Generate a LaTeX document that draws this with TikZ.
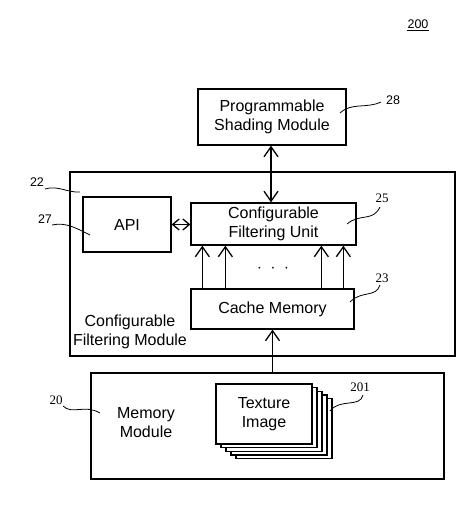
\documentclass[tikz,border=0pt]{standalone}
\usepackage{fontspec}
\setmainfont{Liberation Sans}
\newfontfamily\numserif{Liberation Serif}
\usetikzlibrary{arrows.meta,calc}
\tikzset{
  box/.style={draw,line width=1.3pt,fill=white,align=center,inner sep=0pt,font=\fontsize{16}{19}\selectfont},
  txt/.style={align=center,inner sep=0pt,font=\fontsize{16}{19}\selectfont},
  numsans/.style={inner sep=0pt,font=\fontsize{12.5}{14}\selectfont},
  numser/.style={inner sep=0pt,font=\numserif\fontsize{13}{14}\selectfont},
  lead/.style={line width=0.8pt},
  barb/.style={Straight Barb[length=10pt,width=14pt,line width=1.3pt]},
  sbarb/.style={Straight Barb[length=7pt,width=11pt,line width=1.3pt]},
  conn/.style={line width=1.3pt,arrows={-Straight Barb[length=10pt,width=14pt,line width=1.3pt]}},
  conn2/.style={line width=1.3pt,arrows={Straight Barb[length=10pt,width=14pt,line width=1.3pt]-Straight Barb[length=10pt,width=14pt,line width=1.3pt]}},
  conn3/.style={line width=1.3pt,arrows={Straight Barb[length=6.5pt,width=11pt,line width=1.3pt]-Straight Barb[length=6.5pt,width=11pt,line width=1.3pt]}}
}
\begin{document}
\begin{tikzpicture}[x=1pt,y=-1pt]
\useasboundingbox (0,0) rectangle (474,505);
% title number
\node[numsans] (n200) at (418,24) {200};
\draw[line width=0.8pt] ($(n200.south west)+(0,2)$) -- ($(n200.south east)+(0,2)$);
% programmable shading module
\node[box,minimum width=148pt,minimum height=56pt] (psm) at (272,117) {Programmable\\Shading Module};
% configurable filtering module
\node[box,minimum width=385pt,minimum height=184pt] (cfm) at (262.5,264) {};
\node[txt] (cfmtxt) at (130,331.5) {Configurable\\Filtering Module};
\node[box,minimum width=88pt,minimum height=55pt] (api) at (127,224.5) {API};
\node[box,minimum width=165pt,minimum height=42pt] (cfu) at (273.5,224) {Configurable\\Filtering Unit};
\node[box,minimum width=163pt,minimum height=40pt] (cache) at (272.5,309) {Cache Memory};
\node[txt] (dots) at (273,269) {$\cdot\;\cdot\;\cdot$};
% memory module
\node[box,minimum width=353pt,minimum height=106pt] (mem) at (267.5,426) {};
\node[txt] (memtxt) at (146,423) {Memory\\Module};
\foreach \k in {4,3,2,1}{
  \node[box,minimum width=96pt,minimum height=60pt] (tex\k) at ($(264,414)+(5*\k,3.7*\k)$) {};
}
\node[box,minimum width=96pt,minimum height=60pt] (tex) at (264,414) {Texture\\Image};
% connectors
\draw[conn2] (psm.south -| 271,0) -- (cfu.north -| 271,0);
\draw[conn3] (api.east) -- (api.east -| cfu.west);
\foreach \dx in {12,35,131,153}{
  \draw[conn] ([xshift=\dx pt]cache.north west) -- ([xshift=\dx pt]cache.north west |- cfu.south);
}
\draw[conn] (cache.south |- mem.north) -- (cache.south);
% reference labels
\node[numsans] (l28) at (393,100) {28};
\draw[lead] (340,113) .. controls (352,102) and (366,109) .. (381,102);
\node[numsans] (l22) at (37,182) {22};
\draw[lead] (45,189) .. controls (58,185) and (68,193) .. (80,192);
\node[numsans] (l27) at (45,219) {27};
\draw[lead] (52,225) .. controls (66,222) and (76,228) .. (90,235);
\node[numser] (l25) at (382,198) {25};
\draw[lead] (347,224) .. controls (360,213) and (373,222) .. (380,207);
\node[numser] (l23) at (382,278) {23};
\draw[lead] (350,302) .. controls (362,290) and (376,298) .. (380,285);
\node[numser] (l20) at (56,400) {20};
\draw[lead] (63,406) .. controls (72,415) and (85,404) .. (100,413);
\node[numser] (l201) at (360,387) {201};
\draw[lead] (330,411) .. controls (340,398) and (360,408) .. (363,395);
\end{tikzpicture}
\end{document}
